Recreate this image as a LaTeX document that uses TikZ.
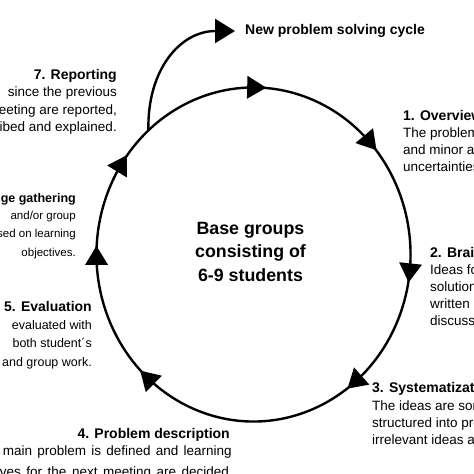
\documentclass[tikz,border=0pt]{standalone}
\usepackage{fontspec}
\setmainfont{Liberation Sans}
\usetikzlibrary{arrows.meta,decorations.markings}
\newcommand\cyctri{\fill (-9.5pt,-11.5pt)--(9.5pt,0pt)--(-9.5pt,11.5pt)--cycle;}
\begin{document}
\begin{tikzpicture}[x=1pt,y=1pt,
  head/.style={font=\fontsize{14}{16}\selectfont\bfseries, inner sep=0pt},
  body/.style={font=\fontsize{13.5}{16}\selectfont, inner sep=0pt},
  headsm/.style={font=\fontsize{12.5}{15}\selectfont\bfseries, inner sep=0pt},
  bodysm/.style={font=\fontsize{11.5}{13}\selectfont, inner sep=0pt},
  bodymd/.style={font=\fontsize{12.5}{15}\selectfont, inner sep=0pt},
  centre/.style={font=\fontsize{17.8}{20}\selectfont\bfseries, inner sep=0pt, anchor=base},
  cyc/.style={line width=2.4pt, black},
  R/.style={anchor=base east},
  L/.style={anchor=base west}]
\useasboundingbox (0,0) rectangle (474,474);
\clip (0,0) rectangle (474,474);
\fill[white] (0,0) rectangle (474,474);
% cycle
\draw[cyc, postaction={decorate}, decoration={markings,
   mark=at position 0.037 with {\cyctri},
   mark=at position 0.196 with {\cyctri},
   mark=at position 0.324 with {\cyctri},
   mark=at position 0.461 with {\cyctri},
   mark=at position 0.584 with {\cyctri},
   mark=at position 0.809 with {\cyctri},
   mark=at position 0.942 with {\cyctri}}]
   (105.97,276.62) arc[start angle=160, end angle=-200, x radius=157, y radius=167];
% branch
\coordinate (br) at (148.4,343.6);
\coordinate (newtip) at (235,443);
\draw[cyc, -{Triangle[length=20pt,width=24pt]}] (br) .. controls (147,404) and (180,443) .. (newtip);
\node[head, L] (newcyc) at (245,439) {New problem solving cycle};
% centre
\node[centre] (c1) at (250.5,239) {Base groups};
\node[centre] (c2) at (250.5,216) {consisting of};
\node[centre] (c3) at (250.5,192) {6-9 students};
% 7
\node[head, R] (s7h) at (117,394) {7. Reporting};
\node[body, R] (s7a) at (117,377) {since the previous};
\node[body, R] (s7b) at (117,359) {meeting are reported,};
\node[body, R] (s7c) at (117,342) {described and explained.};
% 6
\node[headsm, R] (s6h) at (76,271) {6. Knowledge gathering};
\node[bodysm, R] (s6a) at (76,254) {and/or group};
\node[bodysm, R] (s6b) at (76,236) {based on learning};
\node[bodysm, R] (s6c) at (76,217) {objectives.};
% 5
\node[head, R] (s5h) at (92,162) {5. Evaluation};
\node[bodymd, R] (s5a) at (92,144) {evaluated with};
\node[bodymd, R] (s5b) at (92,126) {both student´s};
\node[bodymd, R] (s5c) at (92,107) {and group work.};
% 4
\node[head, R] (s4h) at (230,35) {4. Problem description};
\node[body, R] (s4a) at (232,19) {\makebox[229pt][s]{main problem is defined and learning}};
\node[body, R] (s4b) at (233,-2) {\makebox[272pt][s]{objectives for the next meeting are decided.}};
% 1
\node[head, L] (s1h) at (403,353) {1. Overview};
\node[body, L] (s1a) at (403,336) {The problem is read};
\node[body, L] (s1b) at (403,319) {and minor ambiguities};
\node[body, L] (s1c) at (403,302) {uncertainties are clarified.};
% 2
\node[head, L] (s2h) at (430,216) {2. Brainstorming};
\node[body, L] (s2a) at (430,199) {Ideas for};
\node[body, L] (s2b) at (430,182) {solutions are};
\node[body, L] (s2c) at (430,165) {written down};
\node[body, L] (s2d) at (430,148) {discussed.};
% 3
\node[head, L] (s3h) at (372,81) {3. Systematization};
\node[body, L] (s3a) at (372,63) {The ideas are sorted and};
\node[body, L] (s3b) at (372,46) {structured into problem areas;};
\node[body, L] (s3c) at (372,29) {irrelevant ideas are removed.};
\end{tikzpicture}
\end{document}
